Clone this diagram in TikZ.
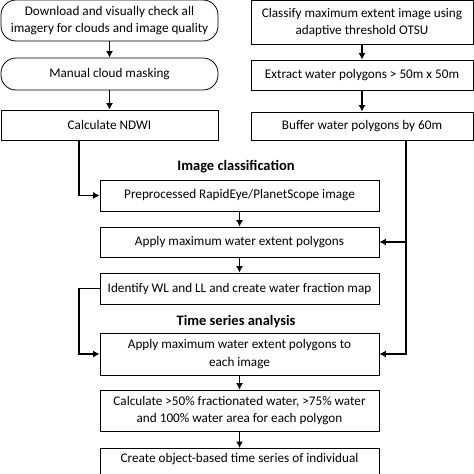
\documentclass[tikz,border=0pt]{standalone}
\usepackage{fontspec}
\setmainfont{Carlito}
\usetikzlibrary{
arrows.meta,
positioning,
calc
}

\tikzset{
    stepbox/.style={
        draw=black,
        line width=0.8pt,
        fill=white,
        align=center,
        inner sep=1pt,
        font=\fontsize{13.2}{17.5}\selectfont
    },
    roundbox/.style={
        stepbox,
        rounded corners=15pt
    },
    leftbox/.style={minimum width=217pt},
    rightbox/.style={minimum width=222pt},
    midbox/.style={minimum width=279pt},
    flow/.style={
        line width=1.8pt,
        -{Latex[length=6.5pt,width=7pt]}
    },
    heading/.style={
        font=\fontsize{14.5}{16}\selectfont\bfseries
    }
}

\begin{document}
\begin{tikzpicture}[
    x=1pt,
    y=-1pt
]

\useasboundingbox (0,0) rectangle (474,474);

% Left column: pre-processing
\node[roundbox, leftbox, minimum height=41pt] (dl) at (109.5,20.5)
{Download and visually check all\\imagery for clouds and image quality};

\node[roundbox, leftbox, minimum height=32pt] (mask) at (109.5,74)
{Manual cloud masking};

\node[stepbox, leftbox, minimum height=30pt] (ndwi) at (109.5,125)
{Calculate NDWI};

% Right column: maximum extent
\node[stepbox, rightbox, minimum height=44pt] (otsu) at (362,22.5)
{Classify maximum extent image using\\adaptive threshold OTSU};

\node[stepbox, rightbox, minimum height=30pt] (extract) at (362,75)
{Extract water polygons > 50m x 50m};

\node[stepbox, rightbox, minimum height=28pt] (buffer) at (362,126)
{Buffer water polygons by 60m};

% Image classification
\node[heading] (imgcls) at (236,167)
{Image classification};

\node[stepbox, midbox, minimum height=31pt] (prep) at (239.5,195.5)
{Preprocessed RapidEye/PlanetScope image};

\node[stepbox, midbox, minimum height=30pt] (apply) at (239.5,242)
{Apply maximum water extent polygons};

\node[stepbox, midbox, minimum height=31pt] (ident) at (239.5,288.5)
{Identify WL and LL and create water fraction map};

% Time series analysis
\node[heading] (tsa) at (236,322)
{Time series analysis};

\node[stepbox, midbox, minimum height=42pt] (applyall) at (239.5,354)
{Apply maximum water extent polygons to\\each image};

\node[stepbox, midbox, minimum height=41pt] (calc) at (239.5,410.5)
{Calculate >50\% fractionated water, >75\% water\\and 100\% water area for each polygon};

\node[stepbox, midbox, minimum height=42pt, anchor=north] (series) at (239.5,448)
{Create object-based time series of individual\\\strut};

% Bus lines
\coordinate (lx) at (79,0);
\coordinate (rx) at (406,0);

% Connectors
\draw[flow] (dl) -- (mask);
\draw[flow] (mask) -- (ndwi);
\draw[flow] (otsu) -- (extract);
\draw[flow] (extract) -- (buffer);

\draw[flow] (ndwi.south -| lx) |- (prep.west);
\draw[flow] (buffer.south -| rx) |- (applyall.east);
\draw[flow] (apply.east -| rx) -- (apply.east);

\draw[flow] (prep) -- (apply);
\draw[flow] (apply) -- (ident);
\draw[flow] (ident.west) -- (ident.west -| lx) |- (applyall.west);

\draw[flow] (applyall) -- (calc);
\draw[flow] (calc) -- (series);

\end{tikzpicture}
\end{document}
